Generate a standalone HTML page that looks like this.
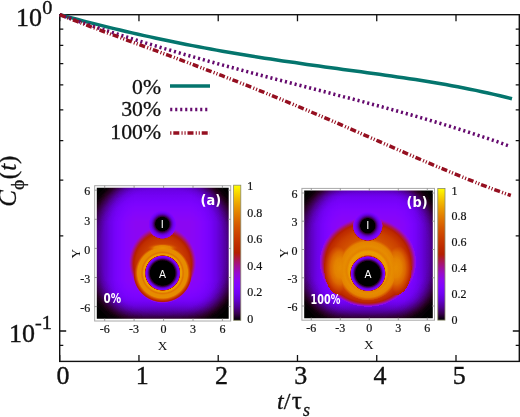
<!DOCTYPE html>
<html><head><meta charset="utf-8"><style>
html,body{margin:0;padding:0;background:#fff;}
svg{display:block;}
</style></head><body>
<svg width="520" height="417" viewBox="0 0 520 417">
<defs><linearGradient id="cb_a" x1="0" y1="0" x2="0" y2="1"><stop offset="0.000" stop-color="rgb(255,255,0)"/><stop offset="0.050" stop-color="rgb(249,219,0)"/><stop offset="0.100" stop-color="rgb(242,186,0)"/><stop offset="0.150" stop-color="rgb(235,157,0)"/><stop offset="0.200" stop-color="rgb(228,131,0)"/><stop offset="0.250" stop-color="rgb(221,108,0)"/><stop offset="0.300" stop-color="rgb(213,87,0)"/><stop offset="0.350" stop-color="rgb(206,70,0)"/><stop offset="0.400" stop-color="rgb(198,55,0)"/><stop offset="0.450" stop-color="rgb(189,42,0)"/><stop offset="0.500" stop-color="rgb(180,32,0)"/><stop offset="0.550" stop-color="rgb(171,23,79)"/><stop offset="0.600" stop-color="rgb(161,16,150)"/><stop offset="0.650" stop-color="rgb(151,11,206)"/><stop offset="0.700" stop-color="rgb(140,7,243)"/><stop offset="0.750" stop-color="rgb(128,4,255)"/><stop offset="0.800" stop-color="rgb(114,2,243)"/><stop offset="0.850" stop-color="rgb(99,1,206)"/><stop offset="0.900" stop-color="rgb(81,0,150)"/><stop offset="0.950" stop-color="rgb(57,0,79)"/><stop offset="1.000" stop-color="rgb(0,0,0)"/></linearGradient><linearGradient id="cb_b" x1="0" y1="0" x2="0" y2="1"><stop offset="0.000" stop-color="rgb(255,255,0)"/><stop offset="0.050" stop-color="rgb(249,219,0)"/><stop offset="0.100" stop-color="rgb(242,186,0)"/><stop offset="0.150" stop-color="rgb(235,157,0)"/><stop offset="0.200" stop-color="rgb(228,131,0)"/><stop offset="0.250" stop-color="rgb(221,108,0)"/><stop offset="0.300" stop-color="rgb(213,87,0)"/><stop offset="0.350" stop-color="rgb(206,70,0)"/><stop offset="0.400" stop-color="rgb(198,55,0)"/><stop offset="0.450" stop-color="rgb(189,42,0)"/><stop offset="0.500" stop-color="rgb(180,32,0)"/><stop offset="0.550" stop-color="rgb(171,23,79)"/><stop offset="0.600" stop-color="rgb(161,16,150)"/><stop offset="0.650" stop-color="rgb(151,11,206)"/><stop offset="0.700" stop-color="rgb(140,7,243)"/><stop offset="0.750" stop-color="rgb(128,4,255)"/><stop offset="0.800" stop-color="rgb(114,2,243)"/><stop offset="0.850" stop-color="rgb(99,1,206)"/><stop offset="0.900" stop-color="rgb(81,0,150)"/><stop offset="0.950" stop-color="rgb(57,0,79)"/><stop offset="1.000" stop-color="rgb(0,0,0)"/></linearGradient><filter id="pal" x="0" y="0" width="1" height="1" color-interpolation-filters="sRGB">
<feComponentTransfer><feFuncR type="table" tableValues="0.000 0.125 0.177 0.217 0.250 0.280 0.306 0.331 0.354 0.375 0.395 0.415 0.433 0.451 0.468 0.484 0.500 0.515 0.530 0.545 0.559 0.573 0.586 0.599 0.612 0.625 0.637 0.650 0.661 0.673 0.685 0.696 0.707 0.718 0.729 0.740 0.750 0.760 0.771 0.781 0.791 0.800 0.810 0.820 0.829 0.839 0.848 0.857 0.866 0.875 0.884 0.893 0.901 0.910 0.919 0.927 0.935 0.944 0.952 0.960 0.968 0.976 0.984 0.992 1.000"/><feFuncG type="table" tableValues="0.000 0.000 0.000 0.000 0.000 0.000 0.001 0.001 0.002 0.003 0.004 0.005 0.007 0.008 0.010 0.013 0.016 0.019 0.022 0.026 0.031 0.035 0.041 0.046 0.053 0.060 0.067 0.075 0.084 0.093 0.103 0.114 0.125 0.137 0.150 0.164 0.178 0.193 0.209 0.226 0.244 0.263 0.283 0.303 0.325 0.348 0.371 0.396 0.422 0.449 0.477 0.506 0.536 0.568 0.601 0.635 0.670 0.706 0.744 0.783 0.824 0.866 0.909 0.954 1.000"/><feFuncB type="table" tableValues="0.000 0.098 0.195 0.290 0.383 0.471 0.556 0.634 0.707 0.773 0.831 0.882 0.924 0.957 0.981 0.995 1.000 0.995 0.981 0.957 0.924 0.882 0.831 0.773 0.707 0.634 0.556 0.471 0.383 0.290 0.195 0.098 0.000 0.000 0.000 0.000 0.000 0.000 0.000 0.000 0.000 0.000 0.000 0.000 0.000 0.000 0.000 0.000 0.000 0.000 0.000 0.000 0.000 0.000 0.000 0.000 0.000 0.000 0.000 0.000 0.000 0.000 0.000 0.000 0.000"/></feComponentTransfer><feGaussianBlur stdDeviation="0.55"/></filter><linearGradient id="a_by" gradientUnits="userSpaceOnUse" x1="0" y1="187.8" x2="0" y2="318.8"><stop offset="0.0000" stop-color="rgb(42,42,42)"/><stop offset="0.0473" stop-color="rgb(50,50,50)"/><stop offset="0.1008" stop-color="rgb(58,58,58)"/><stop offset="0.1542" stop-color="rgb(66,66,66)"/><stop offset="0.2076" stop-color="rgb(71,71,71)"/><stop offset="0.2611" stop-color="rgb(76,76,76)"/><stop offset="0.7038" stop-color="rgb(76,76,76)"/><stop offset="0.7649" stop-color="rgb(71,71,71)"/><stop offset="0.8183" stop-color="rgb(63,63,63)"/><stop offset="0.8641" stop-color="rgb(54,54,54)"/><stop offset="0.9023" stop-color="rgb(42,42,42)"/><stop offset="0.9328" stop-color="rgb(32,32,32)"/><stop offset="0.9634" stop-color="rgb(21,21,21)"/><stop offset="1.0000" stop-color="rgb(8,8,8)"/></linearGradient><linearGradient id="a_bx" gradientUnits="userSpaceOnUse" x1="96.8" y1="0" x2="228.7" y2="0"><stop offset="0.0000" stop-color="rgb(71,71,71)"/><stop offset="0.0318" stop-color="rgb(97,97,97)"/><stop offset="0.0697" stop-color="rgb(128,128,128)"/><stop offset="0.1077" stop-color="rgb(158,158,158)"/><stop offset="0.1456" stop-color="rgb(189,189,189)"/><stop offset="0.1835" stop-color="rgb(214,214,214)"/><stop offset="0.2214" stop-color="rgb(235,235,235)"/><stop offset="0.2593" stop-color="rgb(247,247,247)"/><stop offset="0.2972" stop-color="rgb(255,255,255)"/><stop offset="0.7028" stop-color="rgb(255,255,255)"/><stop offset="0.7407" stop-color="rgb(247,247,247)"/><stop offset="0.7786" stop-color="rgb(235,235,235)"/><stop offset="0.8165" stop-color="rgb(214,214,214)"/><stop offset="0.8544" stop-color="rgb(189,189,189)"/><stop offset="0.8923" stop-color="rgb(158,158,158)"/><stop offset="0.9303" stop-color="rgb(128,128,128)"/><stop offset="0.9682" stop-color="rgb(97,97,97)"/><stop offset="1.0000" stop-color="rgb(71,71,71)"/></linearGradient><radialGradient id="a_bm" gradientUnits="userSpaceOnUse" cx="162.75" cy="251" r="86"><stop offset="0.0000" stop-color="rgb(255,255,255)"/><stop offset="0.7209" stop-color="rgb(255,255,255)"/><stop offset="0.7907" stop-color="rgb(224,224,224)"/><stop offset="0.8488" stop-color="rgb(168,168,168)"/><stop offset="0.8953" stop-color="rgb(102,102,102)"/><stop offset="0.9302" stop-color="rgb(46,46,46)"/><stop offset="0.9651" stop-color="rgb(13,13,13)"/><stop offset="1.0000" stop-color="rgb(0,0,0)"/></radialGradient><radialGradient id="a_in" gradientUnits="userSpaceOnUse" cx="162.6" cy="273.0" r="31"><stop offset="0.0000" stop-color="rgb(0,0,0)"/><stop offset="0.4677" stop-color="rgb(0,0,0)"/><stop offset="0.5000" stop-color="rgb(153,153,153)"/><stop offset="0.5323" stop-color="rgb(217,217,217)"/><stop offset="0.6129" stop-color="rgb(217,217,217)"/><stop offset="0.6613" stop-color="rgb(196,196,196)"/><stop offset="0.7097" stop-color="rgb(209,209,209)"/><stop offset="0.8065" stop-color="rgb(209,209,209)"/><stop offset="0.8710" stop-color="rgb(163,163,163)"/><stop offset="0.9355" stop-color="rgb(115,115,115)"/><stop offset="1.0000" stop-color="rgb(0,0,0)"/></radialGradient><radialGradient id="a_env" gradientUnits="userSpaceOnUse" cx="162.6" cy="262.5" r="33.5" fx="162.6" fy="273.0" gradientTransform="translate(162.6,262.5) scale(1.0,1.08) translate(-162.6,-262.5)"><stop offset="0.0000" stop-color="rgb(166,166,166)"/><stop offset="0.6500" stop-color="rgb(161,161,161)"/><stop offset="0.8000" stop-color="rgb(145,145,145)"/><stop offset="0.9000" stop-color="rgb(117,117,117)"/><stop offset="0.9600" stop-color="rgb(94,94,94)"/><stop offset="1.0000" stop-color="rgb(76,76,76)"/><stop offset="1.0000" stop-color="rgb(0,0,0)"/></radialGradient><radialGradient id="a_br" gradientUnits="userSpaceOnUse" cx="162.6" cy="248" r="17" gradientTransform="translate(162.6,248) scale(1,0.3) translate(-162.6,-248)"><stop offset="0" stop-color="rgb(214,214,214)"/><stop offset="0.5" stop-color="rgb(204,204,204)"/><stop offset="1" stop-color="rgb(153,153,153)" stop-opacity="0"/></radialGradient><radialGradient id="a_holeA" gradientUnits="userSpaceOnUse" cx="162.6" cy="273.0" r="18"><stop offset="0.0000" stop-color="rgb(0,0,0)"/><stop offset="0.6833" stop-color="rgb(0,0,0)"/><stop offset="0.7556" stop-color="rgb(13,13,13)"/><stop offset="0.8278" stop-color="rgb(38,38,38)"/><stop offset="0.8944" stop-color="rgb(56,56,56)"/><stop offset="0.9333" stop-color="rgb(69,69,69)"/><stop offset="0.9667" stop-color="rgb(128,128,128)"/><stop offset="1.0000" stop-color="rgb(255,255,255)"/></radialGradient><radialGradient id="a_holeI" gradientUnits="userSpaceOnUse" cx="162.3" cy="224.1" r="15.5"><stop offset="0.0000" stop-color="rgb(0,0,0)"/><stop offset="0.4387" stop-color="rgb(0,0,0)"/><stop offset="0.5484" stop-color="rgb(18,18,18)"/><stop offset="0.6452" stop-color="rgb(36,36,36)"/><stop offset="0.7419" stop-color="rgb(51,51,51)"/><stop offset="0.8581" stop-color="rgb(64,64,64)"/><stop offset="0.9355" stop-color="rgb(102,102,102)"/><stop offset="1.0000" stop-color="rgb(255,255,255)"/></radialGradient><linearGradient id="b_by" gradientUnits="userSpaceOnUse" x1="0" y1="190.4" x2="0" y2="318.2"><stop offset="0.0000" stop-color="rgb(34,34,34)"/><stop offset="0.0473" stop-color="rgb(50,50,50)"/><stop offset="0.1007" stop-color="rgb(58,58,58)"/><stop offset="0.1541" stop-color="rgb(66,66,66)"/><stop offset="0.2075" stop-color="rgb(71,71,71)"/><stop offset="0.2610" stop-color="rgb(76,76,76)"/><stop offset="0.7040" stop-color="rgb(76,76,76)"/><stop offset="0.7650" stop-color="rgb(71,71,71)"/><stop offset="0.8185" stop-color="rgb(63,63,63)"/><stop offset="0.8642" stop-color="rgb(54,54,54)"/><stop offset="0.9023" stop-color="rgb(42,42,42)"/><stop offset="0.9329" stop-color="rgb(32,32,32)"/><stop offset="0.9634" stop-color="rgb(21,21,21)"/><stop offset="1.0000" stop-color="rgb(8,8,8)"/></linearGradient><linearGradient id="b_bx" gradientUnits="userSpaceOnUse" x1="304.2" y1="0" x2="432.8" y2="0"><stop offset="0.0000" stop-color="rgb(71,71,71)"/><stop offset="0.0319" stop-color="rgb(97,97,97)"/><stop offset="0.0698" stop-color="rgb(128,128,128)"/><stop offset="0.1076" stop-color="rgb(158,158,158)"/><stop offset="0.1456" stop-color="rgb(189,189,189)"/><stop offset="0.1834" stop-color="rgb(214,214,214)"/><stop offset="0.2214" stop-color="rgb(235,235,235)"/><stop offset="0.2593" stop-color="rgb(247,247,247)"/><stop offset="0.2972" stop-color="rgb(255,255,255)"/><stop offset="0.7028" stop-color="rgb(255,255,255)"/><stop offset="0.7407" stop-color="rgb(247,247,247)"/><stop offset="0.7786" stop-color="rgb(235,235,235)"/><stop offset="0.8166" stop-color="rgb(214,214,214)"/><stop offset="0.8544" stop-color="rgb(189,189,189)"/><stop offset="0.8924" stop-color="rgb(158,158,158)"/><stop offset="0.9302" stop-color="rgb(128,128,128)"/><stop offset="0.9681" stop-color="rgb(97,97,97)"/><stop offset="1.0000" stop-color="rgb(71,71,71)"/></linearGradient><radialGradient id="b_bm" gradientUnits="userSpaceOnUse" cx="368.5" cy="252" r="83.85"><stop offset="0.0000" stop-color="rgb(255,255,255)"/><stop offset="0.7209" stop-color="rgb(255,255,255)"/><stop offset="0.7907" stop-color="rgb(224,224,224)"/><stop offset="0.8488" stop-color="rgb(168,168,168)"/><stop offset="0.8954" stop-color="rgb(102,102,102)"/><stop offset="0.9302" stop-color="rgb(46,46,46)"/><stop offset="0.9651" stop-color="rgb(13,13,13)"/><stop offset="1.0000" stop-color="rgb(0,0,0)"/></radialGradient><radialGradient id="b_in" gradientUnits="userSpaceOnUse" cx="367.9" cy="268.6" r="34" fx="367.9" fy="273.6"><stop offset="0.0000" stop-color="rgb(0,0,0)"/><stop offset="0.4000" stop-color="rgb(0,0,0)"/><stop offset="0.4500" stop-color="rgb(153,153,153)"/><stop offset="0.4800" stop-color="rgb(214,214,214)"/><stop offset="0.5600" stop-color="rgb(217,217,217)"/><stop offset="0.6200" stop-color="rgb(204,204,204)"/><stop offset="0.7000" stop-color="rgb(209,209,209)"/><stop offset="0.8200" stop-color="rgb(204,204,204)"/><stop offset="0.9100" stop-color="rgb(168,168,168)"/><stop offset="1.0000" stop-color="rgb(0,0,0)"/></radialGradient><radialGradient id="b_env" gradientUnits="userSpaceOnUse" cx="367.9" cy="262" r="48" fx="367.9" fy="273.6" gradientTransform="translate(367.9,262) scale(1.0,0.93) translate(-367.9,-262)"><stop offset="0.0000" stop-color="rgb(178,178,178)"/><stop offset="0.6000" stop-color="rgb(176,176,176)"/><stop offset="0.7500" stop-color="rgb(161,161,161)"/><stop offset="0.8600" stop-color="rgb(140,140,140)"/><stop offset="0.9400" stop-color="rgb(110,110,110)"/><stop offset="1.0000" stop-color="rgb(76,76,76)"/><stop offset="1.0000" stop-color="rgb(0,0,0)"/></radialGradient><radialGradient id="b_lobeL" gradientUnits="userSpaceOnUse" cx="339.9" cy="268" r="27" gradientTransform="translate(339.9,268) scale(0.58,1.0) translate(-339.9,-268)"><stop offset="0.0000" stop-color="rgb(209,209,209)"/><stop offset="0.3500" stop-color="rgb(204,204,204)"/><stop offset="0.6000" stop-color="rgb(189,189,189)"/><stop offset="0.8000" stop-color="rgb(163,163,163)"/><stop offset="1.0000" stop-color="rgb(128,128,128)"/><stop offset="1.0000" stop-color="rgb(0,0,0)"/></radialGradient><radialGradient id="b_lobeR" gradientUnits="userSpaceOnUse" cx="395.9" cy="268" r="27" gradientTransform="translate(395.9,268) scale(0.58,1.0) translate(-395.9,-268)"><stop offset="0.0000" stop-color="rgb(209,209,209)"/><stop offset="0.3500" stop-color="rgb(204,204,204)"/><stop offset="0.6000" stop-color="rgb(189,189,189)"/><stop offset="0.8000" stop-color="rgb(163,163,163)"/><stop offset="1.0000" stop-color="rgb(128,128,128)"/><stop offset="1.0000" stop-color="rgb(0,0,0)"/></radialGradient><radialGradient id="b_holeA" gradientUnits="userSpaceOnUse" cx="367.9" cy="273.6" r="18"><stop offset="0.0000" stop-color="rgb(0,0,0)"/><stop offset="0.6833" stop-color="rgb(0,0,0)"/><stop offset="0.7556" stop-color="rgb(13,13,13)"/><stop offset="0.8278" stop-color="rgb(38,38,38)"/><stop offset="0.8944" stop-color="rgb(56,56,56)"/><stop offset="0.9333" stop-color="rgb(69,69,69)"/><stop offset="0.9667" stop-color="rgb(128,128,128)"/><stop offset="1.0000" stop-color="rgb(255,255,255)"/></radialGradient><radialGradient id="b_holeI" gradientUnits="userSpaceOnUse" cx="367.7" cy="225.7" r="15.8"><stop offset="0.0000" stop-color="rgb(0,0,0)"/><stop offset="0.4557" stop-color="rgb(0,0,0)"/><stop offset="0.5570" stop-color="rgb(18,18,18)"/><stop offset="0.6582" stop-color="rgb(36,36,36)"/><stop offset="0.7595" stop-color="rgb(51,51,51)"/><stop offset="0.8608" stop-color="rgb(64,64,64)"/><stop offset="0.9367" stop-color="rgb(102,102,102)"/><stop offset="1.0000" stop-color="rgb(255,255,255)"/></radialGradient></defs>
<rect width="520" height="417" fill="#fff"/>

<path d="M59.70,361.4 v-6.5 M59.70,14.7 v6.5 M138.96,361.4 v-6.5 M138.96,14.7 v6.5 M218.22,361.4 v-6.5 M218.22,14.7 v6.5 M297.48,361.4 v-6.5 M297.48,14.7 v6.5 M376.74,361.4 v-6.5 M376.74,14.7 v6.5 M456.00,361.4 v-6.5 M456.00,14.7 v6.5 M59.7,29.17 h3.6 M519.3,29.17 h-3.6 M59.7,45.35 h3.6 M519.3,45.35 h-3.6 M59.7,63.70 h3.6 M519.3,63.70 h-3.6 M59.7,84.87 h3.6 M519.3,84.87 h-3.6 M59.7,109.92 h3.6 M519.3,109.92 h-3.6 M59.7,140.57 h3.6 M519.3,140.57 h-3.6 M59.7,180.09 h3.6 M519.3,180.09 h-3.6 M59.7,235.78 h3.6 M519.3,235.78 h-3.6 M59.7,331.00 h6.5 M519.3,331.00 h-6.5 M59.7,345.47 h3.6 M519.3,345.47 h-3.6" stroke="#111" stroke-width="1.3" fill="none"/>
<rect x="59.7" y="14.7" width="459.60" height="346.70" fill="none" stroke="#111" stroke-width="1.4"/>
<g font-family="Liberation Serif, serif" font-size="25" fill="#111" stroke="#111" stroke-width="0.35"><text transform="translate(62.90,384.20) scale(1.04,1)" text-anchor="middle">0</text><text transform="translate(142.16,384.20) scale(1.04,1)" text-anchor="middle">1</text><text transform="translate(221.42,384.20) scale(1.04,1)" text-anchor="middle">2</text><text transform="translate(300.68,384.20) scale(1.04,1)" text-anchor="middle">3</text><text transform="translate(379.94,384.20) scale(1.04,1)" text-anchor="middle">4</text><text transform="translate(459.20,384.20) scale(1.04,1)" text-anchor="middle">5</text><text transform="translate(42.00,26.20) scale(1.04,1)" text-anchor="end">10</text><text transform="translate(42.20,13.60) scale(1.04,1)" font-size="19.5">0</text><text transform="translate(35.00,342.00) scale(1.04,1)" text-anchor="end">10</text><text transform="translate(35.00,329.40) scale(1.04,1)" font-size="19.5">-1</text></g><g font-family="Liberation Serif, serif" fill="#111" stroke="#111" stroke-width="0.3">
<text transform="translate(16.4,206.8) rotate(-90)" font-size="25"><tspan font-style="italic">C</tspan><tspan font-size="19.8" dy="7.6" dx="0.2">&#x3D5;</tspan><tspan dy="-7.6" dx="0.3">(</tspan><tspan font-style="italic">t</tspan>)</text>
<text x="277" y="409.2" font-size="24"><tspan font-style="italic">t</tspan>/<tspan font-size="25.5" dx="1.3">τ</tspan><tspan font-style="italic" font-size="18" dy="6.5" dx="1.2">s</tspan></text>
</g>
<path d="M59.7,14.7 L65.7,16.3 L71.8,17.9 L77.8,19.5 L83.8,21.1 L89.9,22.6 L95.9,24.1 L101.9,25.6 L107.9,27.1 L114.0,28.6 L120.0,30.0 L126.0,31.5 L132.1,32.9 L138.1,34.2 L144.1,35.6 L150.2,36.9 L156.2,38.2 L162.2,39.5 L168.3,40.8 L174.3,42.0 L180.3,43.3 L186.3,44.5 L192.4,45.6 L198.4,46.8 L204.4,47.9 L210.5,49.0 L216.5,50.1 L222.5,51.2 L228.6,52.2 L234.6,53.3 L240.6,54.3 L246.7,55.3 L252.7,56.3 L258.7,57.2 L264.7,58.2 L270.8,59.1 L276.8,60.0 L282.8,60.9 L288.9,61.8 L294.9,62.6 L300.9,63.5 L307.0,64.4 L313.0,65.2 L319.0,66.0 L325.0,66.9 L331.1,67.7 L337.1,68.5 L343.1,69.4 L349.2,70.2 L355.2,71.0 L361.2,71.8 L367.3,72.7 L373.3,73.5 L379.3,74.3 L385.4,75.2 L391.4,76.0 L397.4,76.9 L403.4,77.8 L409.5,78.7 L415.5,79.6 L421.5,80.6 L427.6,81.6 L433.6,82.6 L439.6,83.6 L445.7,84.6 L451.7,85.7 L457.7,86.8 L463.8,88.0 L469.8,89.2 L475.8,90.4 L481.8,91.7 L487.9,93.0 L493.9,94.4 L499.9,95.8 L506.0,97.3 L512.0,98.8" stroke="#04756d" stroke-width="3.5" fill="none" stroke-linejoin="round"/>
<path d="M59.7,14.7 L65.8,16.8 L71.9,19.0 L77.9,21.1 L84.0,23.1 L90.1,25.2 L96.2,27.2 L102.2,29.2 L108.3,31.2 L114.4,33.2 L120.5,35.1 L126.5,37.0 L132.6,38.9 L138.7,40.8 L144.8,42.7 L150.9,44.5 L156.9,46.3 L163.0,48.2 L169.1,49.9 L175.2,51.7 L181.2,53.5 L187.3,55.2 L193.4,56.9 L199.5,58.6 L205.5,60.3 L211.6,62.0 L217.7,63.7 L223.8,65.4 L229.9,67.0 L235.9,68.6 L242.0,70.3 L248.1,71.9 L254.2,73.5 L260.2,75.1 L266.3,76.7 L272.4,78.3 L278.5,79.9 L284.6,81.4 L290.6,83.0 L296.7,84.6 L302.8,86.1 L308.9,87.7 L314.9,89.3 L321.0,90.8 L327.1,92.4 L333.2,94.0 L339.2,95.6 L345.3,97.2 L351.4,98.7 L357.5,100.3 L363.6,101.9 L369.6,103.6 L375.7,105.2 L381.8,106.8 L387.9,108.5 L393.9,110.1 L400.0,111.8 L406.1,113.5 L412.2,115.2 L418.2,116.9 L424.3,118.7 L430.4,120.5 L436.5,122.3 L442.6,124.1 L448.6,125.9 L454.7,127.8 L460.8,129.7 L466.9,131.6 L472.9,133.6 L479.0,135.6 L485.1,137.6 L491.2,139.6 L497.2,141.7 L503.3,143.9 L509.4,146.1" stroke="#650a6e" stroke-width="3.5" fill="none" stroke-dasharray="2.1 2.9"/>
<path d="M59.7,14.7 L65.7,17.1 L71.7,19.4 L77.7,21.7 L83.8,24.0 L89.8,26.3 L95.8,28.5 L101.8,30.8 L107.8,33.0 L113.8,35.2 L119.8,37.4 L125.9,39.7 L131.9,41.9 L137.9,44.1 L143.9,46.3 L149.9,48.5 L155.9,50.7 L161.9,53.0 L168.0,55.2 L174.0,57.4 L180.0,59.7 L186.0,61.9 L192.0,64.2 L198.0,66.5 L204.1,68.8 L210.1,71.1 L216.1,73.4 L222.1,75.7 L228.1,78.1 L234.1,80.4 L240.1,82.8 L246.2,85.2 L252.2,87.6 L258.2,90.0 L264.2,92.4 L270.2,94.9 L276.2,97.4 L282.2,99.8 L288.3,102.3 L294.3,104.8 L300.3,107.4 L306.3,109.9 L312.3,112.5 L318.3,115.0 L324.3,117.6 L330.4,120.2 L336.4,122.8 L342.4,125.4 L348.4,128.0 L354.4,130.6 L360.4,133.3 L366.4,135.9 L372.5,138.5 L378.5,141.2 L384.5,143.8 L390.5,146.4 L396.5,149.1 L402.5,151.7 L408.6,154.3 L414.6,156.9 L420.6,159.5 L426.6,162.1 L432.6,164.7 L438.6,167.2 L444.6,169.7 L450.7,172.2 L456.7,174.7 L462.7,177.2 L468.7,179.6 L474.7,182.0 L480.7,184.4 L486.7,186.7 L492.8,189.0 L498.8,191.2 L504.8,193.4 L510.8,195.5" stroke="#950f20" stroke-width="3.5" fill="none" stroke-dasharray="6 2.2 1.1 1.9 1.1 1.9"/>
<g font-family="Liberation Serif, serif" font-size="20.5" fill="#111" stroke="#111" stroke-width="0.3"><text transform="translate(161.00,93.60) scale(1.06,1)" text-anchor="end">0%</text><text transform="translate(161.00,116.30) scale(1.06,1)" text-anchor="end">30%</text><text transform="translate(161.00,139.00) scale(1.06,1)" text-anchor="end">100%</text></g>
<path d="M170,86 H210" stroke="#04756d" stroke-width="3.5"/>
<path d="M170.2,109.4 H208" stroke="#650a6e" stroke-width="3.5" stroke-dasharray="2.1 2.9"/>
<path d="M166.2,133 H210" stroke="#950f20" stroke-width="3.5" stroke-dasharray="0 4 1.2 1.9 6 2.2 1.1 1.9 1.1 1.9 6 2.2 1.1 1.9 1.1 1.9 6 2.2 1.1 1.9 1.1 1.9 6 2.2 1.1 1.9 1.1 1.9 6"/>

<rect x="94.65" y="185.7" width="136.05" height="135.30" fill="#fff" stroke="#a8a8a8" stroke-width="1"/><svg x="96.8" y="187.8" width="131.89999999999998" height="131.0" viewBox="96.8 187.8 131.89999999999998 131.0" overflow="hidden"><g filter="url(#pal)"><rect x="90" y="180" width="150" height="150" fill="#000"/>
<rect x="90" y="180" width="150" height="150" fill="url(#a_by)"/>
<rect x="90" y="180" width="150" height="150" fill="url(#a_bx)" style="mix-blend-mode:multiply"/>
<rect x="90" y="180" width="150" height="150" fill="url(#a_bm)" style="mix-blend-mode:multiply"/>
<rect x="90" y="180" width="150" height="150" fill="url(#a_env)" style="mix-blend-mode:lighten"/>
<rect x="90" y="180" width="150" height="150" fill="url(#a_in)" style="mix-blend-mode:lighten"/>
<rect x="90" y="180" width="150" height="150" fill="url(#a_br)" style="mix-blend-mode:lighten"/>
<rect x="90" y="180" width="150" height="150" fill="url(#a_holeA)" style="mix-blend-mode:darken"/>
<rect x="90" y="180" width="150" height="150" fill="url(#a_holeI)" style="mix-blend-mode:darken"/></g></svg><rect x="233.6" y="185.2" width="7.200000000000017" height="135.10000000000002" fill="url(#cb_a)" stroke="#8a8a6a" stroke-width="0.8"/><path d="M104.7,321 v-2.5 M104.7,185.7 v2.5 M134.1,321 v-2.5 M134.1,185.7 v2.5 M163.6,321 v-2.5 M163.6,185.7 v2.5 M193.0,321 v-2.5 M193.0,185.7 v2.5 M222.4,321 v-2.5 M222.4,185.7 v2.5 M94.65,190.2 h2.5 M230.7,190.2 h-2.5 M94.65,219.3 h2.5 M230.7,219.3 h-2.5 M94.65,248.4 h2.5 M230.7,248.4 h-2.5 M94.65,277.5 h2.5 M230.7,277.5 h-2.5 M94.65,306.6 h2.5 M230.7,306.6 h-2.5" stroke="#888" stroke-width="0.8"/><g font-family="Liberation Serif, serif" font-size="12" fill="#111" stroke="#111" stroke-width="0.2"><text x="104.7" y="333.0" text-anchor="middle">-6</text><text x="134.1" y="333.0" text-anchor="middle">-3</text><text x="163.6" y="333.0" text-anchor="middle">0</text><text x="193.0" y="333.0" text-anchor="middle">3</text><text x="222.4" y="333.0" text-anchor="middle">6</text><text x="90.2" y="195.4" text-anchor="end">6</text><text x="90.2" y="224.5" text-anchor="end">3</text><text x="90.2" y="253.6" text-anchor="end">0</text><text x="90.2" y="282.7" text-anchor="end">-3</text><text x="90.2" y="311.8" text-anchor="end">-6</text><text x="247.3" y="190.3">1</text><text x="247.3" y="216.8">0.8</text><text x="247.3" y="243.3">0.6</text><text x="247.3" y="269.9">0.4</text><text x="247.3" y="296.4">0.2</text><text x="247.3" y="322.9">0</text></g><text x="162.6" y="349.8" font-family="Liberation Serif, serif" font-size="13.3" text-anchor="middle" fill="#111">X</text><text transform="translate(80,253.7) rotate(-90)" font-family="Liberation Serif, serif" font-size="13.3" text-anchor="middle" fill="#111">Y</text><g font-family="DejaVu Sans, sans-serif" font-weight="bold" fill="#fff"><text transform="translate(200.60,204.80) scale(0.9,1)" font-size="14.3">(a)</text><text transform="translate(103.60,302.60) scale(0.74,1)" font-size="14">0%</text></g><g font-family="DejaVu Sans, sans-serif" fill="#fff" font-size="10.3" text-anchor="middle"><text x="162.6" y="277.8">A</text><text x="162.3" y="227.7">I</text></g>
<rect x="301.9" y="188.4" width="132.60" height="131.80" fill="#fff" stroke="#a8a8a8" stroke-width="1"/><svg x="304.2" y="190.4" width="128.60000000000002" height="127.79999999999998" viewBox="304.2 190.4 128.60000000000002 127.79999999999998" overflow="hidden"><g filter="url(#pal)"><rect x="300" y="185" width="140" height="140" fill="#000"/>
<rect x="300" y="185" width="140" height="140" fill="url(#b_by)"/>
<rect x="300" y="185" width="140" height="140" fill="url(#b_bx)" style="mix-blend-mode:multiply"/>
<rect x="300" y="185" width="140" height="140" fill="url(#b_bm)" style="mix-blend-mode:multiply"/>
<rect x="300" y="185" width="140" height="140" fill="url(#b_env)" style="mix-blend-mode:lighten"/>
<rect x="300" y="185" width="140" height="140" fill="url(#b_in)" style="mix-blend-mode:lighten"/>
<rect x="300" y="185" width="140" height="140" fill="url(#b_lobeL)" style="mix-blend-mode:lighten"/>
<rect x="300" y="185" width="140" height="140" fill="url(#b_lobeR)" style="mix-blend-mode:lighten"/>
<rect x="300" y="185" width="140" height="140" fill="url(#b_holeA)" style="mix-blend-mode:darken"/>
<rect x="300" y="185" width="140" height="140" fill="url(#b_holeI)" style="mix-blend-mode:darken"/></g></svg><rect x="437.8" y="188.4" width="7.199999999999989" height="131.70000000000002" fill="url(#cb_b)" stroke="#8a8a6a" stroke-width="0.8"/><path d="M311.3,320.2 v-2.5 M311.3,188.4 v2.5 M340.3,320.2 v-2.5 M340.3,188.4 v2.5 M369.3,320.2 v-2.5 M369.3,188.4 v2.5 M398.3,320.2 v-2.5 M398.3,188.4 v2.5 M427.3,320.2 v-2.5 M427.3,188.4 v2.5 M301.9,193.0 h2.5 M434.5,193.0 h-2.5 M301.9,221.2 h2.5 M434.5,221.2 h-2.5 M301.9,249.5 h2.5 M434.5,249.5 h-2.5 M301.9,277.8 h2.5 M434.5,277.8 h-2.5 M301.9,306.0 h2.5 M434.5,306.0 h-2.5" stroke="#888" stroke-width="0.8"/><g font-family="Liberation Serif, serif" font-size="12" fill="#111" stroke="#111" stroke-width="0.2"><text x="311.3" y="332.2" text-anchor="middle">-6</text><text x="340.3" y="332.2" text-anchor="middle">-3</text><text x="369.3" y="332.2" text-anchor="middle">0</text><text x="398.3" y="332.2" text-anchor="middle">3</text><text x="427.3" y="332.2" text-anchor="middle">6</text><text x="297.4" y="198.2" text-anchor="end">6</text><text x="297.4" y="226.4" text-anchor="end">3</text><text x="297.4" y="254.7" text-anchor="end">0</text><text x="297.4" y="283.0" text-anchor="end">-3</text><text x="297.4" y="311.2" text-anchor="end">-6</text><text x="451.5" y="194.5">1</text><text x="451.5" y="220.3">0.8</text><text x="451.5" y="246.1">0.6</text><text x="451.5" y="272.0">0.4</text><text x="451.5" y="297.8">0.2</text><text x="451.5" y="323.6">0</text></g><text x="368.7" y="348.5" font-family="Liberation Serif, serif" font-size="13.3" text-anchor="middle" fill="#111">X</text><text transform="translate(288,253.3) rotate(-90)" font-family="Liberation Serif, serif" font-size="13.3" text-anchor="middle" fill="#111">Y</text><g font-family="DejaVu Sans, sans-serif" font-weight="bold" fill="#fff"><text transform="translate(406.60,207.40) scale(0.9,1)" font-size="14.3">(b)</text><text transform="translate(310.60,304.40) scale(0.69,1)" font-size="14">100%</text></g><g font-family="DejaVu Sans, sans-serif" fill="#fff" font-size="10.3" text-anchor="middle"><text x="367.9" y="278.40000000000003">A</text><text x="367.7" y="229.29999999999998">I</text></g>
</svg>
</body></html>
